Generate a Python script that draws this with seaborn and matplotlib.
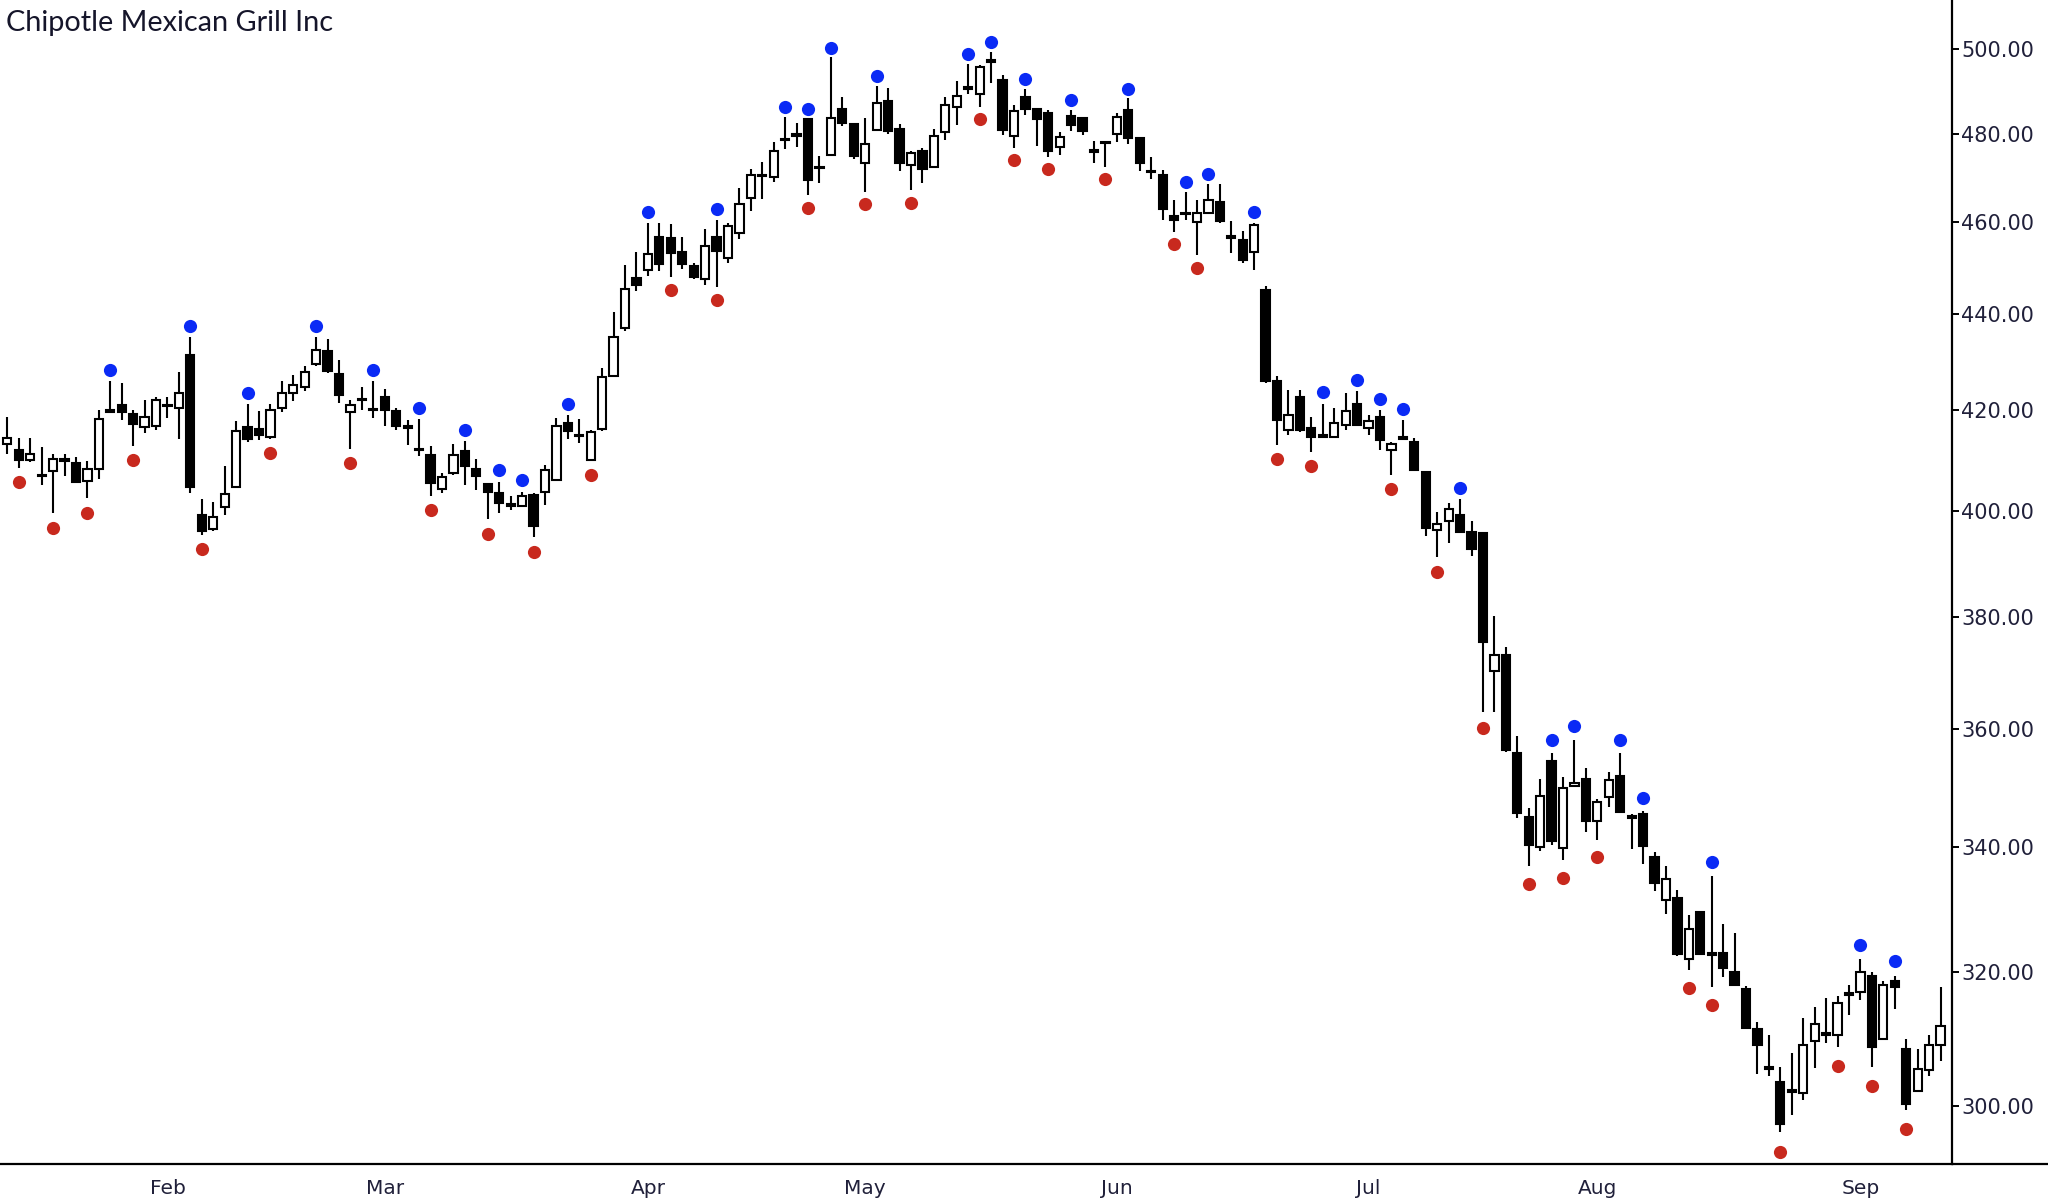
import numpy as np
import pandas as pd
import matplotlib
matplotlib.use("Agg")
import matplotlib.pyplot as plt
import matplotlib.ticker as mticker
from matplotlib.lines import Line2D
import seaborn as sns

title = "Chipotle Mexican Grill Inc"
holidays = ["2017-01-16", "2017-02-20", "2017-04-14", "2017-05-29", "2017-07-04", "2017-09-04"]
start_date, end_date = "2017-01-11", "2017-09-13"

opens = [413.1, 412.0, 409.9, 406.8, 407.7, 409.8, 409.4, 405.9, 408.2, 419.6,
         421.0, 419.1, 416.5, 416.8, 420.7, 420.3, 431.3, 399.2, 396.5, 400.7,
         404.7, 416.5, 416.1, 414.5, 420.3, 423.5, 424.7, 429.4, 432.2, 427.4,
         419.5, 422.0, 420.1, 422.7, 419.7, 416.4, 412.1, 410.9, 404.2, 407.4,
         411.7, 408.2, 405.2, 403.4, 401.0, 400.9, 403.1, 403.6, 406.1, 417.3,
         414.7, 410.0, 416.1, 426.9, 436.9, 447.6, 449.4, 456.6, 456.3, 453.4,
         450.2, 447.4, 456.6, 452.0, 457.6, 465.3, 470.3, 470.0, 478.5, 479.8,
         483.4, 472.2, 475.1, 485.9, 482.3, 473.3, 480.9, 487.7, 481.0, 472.9,
         476.0, 472.4, 480.5, 486.2, 491.0, 489.4, 497.0, 492.7, 479.5, 488.6,
         485.9, 484.9, 476.9, 484.2, 483.6, 476.1, 477.8, 479.9, 485.6, 479.0,
         471.4, 470.5, 461.3, 462.0, 460.0, 462.0, 464.4, 456.7, 456.0, 453.4,
         445.0, 426.0, 416.0, 422.7, 416.3, 414.8, 414.5, 416.9, 421.2, 416.3,
         418.5, 412.0, 414.4, 413.5, 407.5, 396.3, 398.1, 399.2, 396.0, 395.7,
         370.1, 373.0, 355.8, 344.9, 340.0, 354.5, 339.8, 350.2, 351.3, 344.2,
         348.3, 351.9, 345.0, 345.5, 338.3, 331.4, 331.7, 322.0, 329.4, 323.0,
         323.0, 320.0, 317.4, 311.3, 305.7, 303.4, 302.0, 301.9, 309.6, 310.4,
         310.5, 316.5, 317.0, 319.4, 309.9, 318.6, 308.4, 302.2, 305.2, 309.0]

highs = [418.5, 414.3, 414.3, 412.5, 411.2, 411.2, 410.6, 409.7, 420.0, 425.9,
         425.4, 420.0, 422.0, 422.7, 422.7, 427.8, 435.0, 402.2, 401.8, 408.7,
         417.7, 421.2, 419.7, 421.2, 425.9, 427.1, 429.1, 435.0, 434.6, 430.2,
         422.0, 424.7, 425.9, 424.3, 420.3, 417.9, 418.1, 412.8, 407.4, 413.2,
         413.7, 410.2, 405.4, 405.7, 402.8, 403.7, 403.4, 409.0, 418.3, 419.0,
         418.1, 415.9, 428.7, 440.3, 450.5, 453.4, 459.8, 459.8, 459.5, 456.6,
         451.0, 458.3, 460.5, 459.8, 467.5, 472.0, 473.5, 478.0, 484.0, 482.4,
         483.6, 474.8, 498.1, 488.7, 482.5, 483.6, 491.3, 490.8, 482.3, 476.0,
         476.6, 481.0, 488.6, 492.3, 496.5, 496.3, 499.4, 493.9, 486.7, 490.5,
         486.1, 485.5, 480.5, 485.6, 483.8, 478.4, 478.4, 484.9, 488.3, 479.3,
         474.7, 471.6, 464.8, 466.7, 464.8, 468.4, 468.4, 460.2, 458.0, 459.8,
         446.0, 427.0, 424.0, 424.0, 418.5, 421.3, 420.3, 423.4, 423.9, 419.0,
         420.0, 413.5, 417.9, 414.3, 407.6, 399.7, 401.5, 402.2, 398.1, 396.0,
         380.2, 374.5, 358.7, 346.4, 351.3, 355.8, 351.7, 358.1, 353.2, 348.0,
         352.6, 355.8, 345.4, 345.9, 339.2, 336.8, 333.0, 329.0, 329.6, 335.2,
         327.6, 326.1, 317.9, 312.4, 310.5, 305.6, 307.7, 313.0, 314.6, 316.0,
         316.3, 318.0, 322.0, 320.0, 318.6, 319.4, 309.9, 308.4, 310.5, 317.8]

lows = [411.2, 408.4, 409.6, 405.1, 399.5, 406.7, 405.4, 402.4, 406.2, 419.3,
        418.0, 412.7, 415.4, 416.0, 418.3, 414.1, 403.5, 395.4, 396.2, 399.2,
        404.4, 413.5, 414.0, 414.1, 419.5, 421.9, 423.9, 429.1, 427.6, 421.5,
        412.2, 419.9, 418.3, 416.8, 416.0, 413.0, 410.8, 402.9, 403.5, 406.9,
        405.1, 404.0, 398.4, 399.5, 400.2, 400.7, 395.0, 401.1, 405.9, 414.1,
        413.3, 409.8, 415.7, 426.7, 436.4, 444.9, 448.1, 449.1, 447.8, 449.6,
        447.4, 446.1, 445.7, 451.0, 456.1, 462.4, 465.0, 469.0, 476.4, 476.9,
        465.9, 468.7, 474.9, 481.7, 474.1, 466.7, 480.7, 479.9, 471.5, 467.1,
        468.7, 472.2, 478.5, 482.0, 489.4, 486.2, 492.0, 479.7, 476.7, 484.4,
        477.1, 474.7, 475.1, 480.7, 479.7, 473.2, 472.4, 478.2, 477.6, 471.5,
        469.7, 460.4, 457.8, 460.4, 452.7, 461.9, 459.8, 453.2, 450.9, 449.5,
        425.5, 413.0, 415.0, 415.5, 411.5, 414.5, 414.3, 416.0, 416.7, 415.0,
        411.9, 407.0, 414.0, 407.7, 395.1, 391.1, 393.8, 395.7, 391.4, 363.0,
        363.0, 356.0, 344.8, 336.8, 339.4, 340.3, 337.8, 350.0, 342.5, 341.2,
        346.6, 345.6, 339.7, 337.2, 332.8, 329.2, 322.6, 320.3, 322.7, 317.8,
        319.3, 317.9, 311.3, 304.6, 304.4, 296.2, 298.7, 300.9, 305.5, 309.2,
        308.6, 313.5, 315.7, 305.7, 309.7, 314.3, 299.4, 302.0, 304.4, 306.6]

closes = [414.3, 410.0, 411.2, 407.0, 410.2, 410.0, 405.7, 408.2, 418.1, 419.9,
          419.5, 417.2, 418.5, 422.0, 420.9, 423.4, 404.7, 396.2, 398.8, 403.3,
          415.8, 414.1, 415.0, 420.0, 423.4, 425.1, 427.8, 432.4, 428.0, 423.0,
          421.1, 422.2, 419.9, 420.0, 416.8, 416.6, 411.9, 405.5, 406.6, 410.9,
          408.7, 406.7, 403.7, 401.5, 401.2, 402.9, 397.0, 407.9, 416.7, 415.7,
          414.9, 415.5, 426.7, 435.0, 445.3, 446.1, 452.9, 450.8, 453.2, 450.7,
          447.8, 454.7, 453.6, 459.0, 463.9, 470.5, 470.6, 476.0, 478.8, 479.6,
          469.4, 472.4, 483.6, 482.6, 474.8, 477.7, 487.3, 480.7, 473.3, 475.6,
          471.9, 479.5, 486.7, 488.9, 490.4, 495.7, 497.4, 480.9, 485.4, 485.7,
          483.4, 476.0, 479.2, 482.0, 480.7, 475.9, 478.0, 484.0, 479.0, 473.2,
          471.2, 462.8, 460.4, 461.8, 461.9, 464.8, 460.2, 456.5, 451.6, 459.3,
          426.0, 418.0, 419.0, 416.0, 414.5, 414.6, 417.3, 419.7, 416.9, 417.7,
          413.9, 413.1, 414.2, 408.0, 396.7, 397.5, 400.4, 396.0, 392.6, 375.5,
          373.0, 356.3, 345.6, 340.3, 348.5, 340.9, 349.9, 350.6, 344.2, 347.4,
          351.2, 345.7, 344.8, 340.1, 334.1, 334.7, 322.8, 326.7, 322.8, 322.7,
          320.6, 318.0, 311.5, 308.9, 305.4, 297.4, 302.3, 308.9, 312.1, 310.7,
          315.3, 316.8, 320.0, 308.7, 318.0, 317.7, 300.2, 305.3, 309.0, 311.8]

swing_high_idx = [9, 16, 21, 27, 32, 36, 40, 43, 45, 49, 56, 62, 68, 70, 72, 76, 84, 86,
                  89, 93, 98, 103, 105, 109, 115, 118, 120, 122, 127, 135, 137, 141, 143,
                  149, 162, 165]
swing_low_idx = [1, 4, 7, 11, 17, 23, 30, 37, 42, 46, 51, 58, 62, 70, 75, 79, 85, 88,
                 91, 96, 102, 104, 111, 114, 121, 125, 129, 133, 136, 139, 147, 149, 155,
                 160, 163, 166]

y_ticks = [300, 320, 340, 360, 380, 400, 420, 440, 460, 480, 500]

# ---------------------------------------------------------------
dates = pd.bdate_range(start_date, end_date, freq="C", holidays=holidays)
n = len(opens)
dates = dates[:n]
df = pd.DataFrame({"date": dates, "open": opens, "high": highs,
                   "low": lows, "close": closes})
df["x"] = np.arange(n)
df["up"] = df["close"] >= df["open"]

sns.set_style("white")
plt.rcParams["font.family"] = ["DejaVu Sans"]

W, H = 2048, 1198
fig = plt.figure(figsize=(W / 100, H / 100), dpi=100)
ax_bottom = 34 / H
ax_right = 1951.5 / W
ax = fig.add_axes([0, ax_bottom, ax_right, 1 - ax_bottom])
ax.set_facecolor("white")

ax.set_yscale("log")

# wicks
ax.vlines(df["x"], df["low"], df["high"], color="black", linewidth=1.5, zorder=2)

# bodies
body_bottom = np.minimum(df["open"], df["close"])
body_h = np.maximum(np.abs(df["close"] - df["open"]), 0.25)
colors = np.where(df["up"], "white", "black")
ax.bar(df["x"], body_h, bottom=body_bottom, width=0.72, color=colors,
       edgecolor="black", linewidth=1.5, zorder=3)

# swing markers
hi = df.loc[swing_high_idx]
lo = df.loc[swing_low_idx]
sns.scatterplot(x=hi["x"], y=hi["high"] + 2.3, ax=ax, color="#0a2af5",
                s=90, linewidth=0, zorder=4, legend=False)
sns.scatterplot(x=lo["x"], y=lo["low"] - 2.8, ax=ax, color="#c8291e",
                s=90, linewidth=0, zorder=4, legend=False)

ax.set_xlim(-0.64, 169.96)
ax.set_ylim(291.66, 512.08)

# y axis on the right
ax.yaxis.tick_right()
ax.yaxis.set_major_locator(mticker.FixedLocator(y_ticks))
ax.yaxis.set_minor_locator(mticker.NullLocator())
ax.yaxis.set_major_formatter(mticker.FuncFormatter(lambda v, p: f"{v:.2f}"))
ax.tick_params(axis="y", which="major", direction="out", length=5, width=1.4,
               colors="black", labelcolor="#20203a", labelsize=15, pad=2,
               right=True, left=False)

# x axis: months (major) and weeks (minor)
month_start = [i for i in range(1, n) if dates[i].month != dates[i - 1].month]
week_start = [i for i in range(1, n) if dates[i].isocalendar()[1] != dates[i - 1].isocalendar()[1]]
ax.xaxis.set_major_locator(mticker.FixedLocator(month_start))
ax.xaxis.set_major_formatter(mticker.FixedFormatter([dates[i].strftime("%b") for i in month_start]))
ax.xaxis.set_minor_locator(mticker.FixedLocator(week_start))
ax.tick_params(axis="x", which="major", direction="out", length=8, width=1.4,
               labelsize=14.5, labelcolor="#20203a", pad=3)
ax.tick_params(axis="x", which="minor", direction="out", length=3.5, width=1.2)

for s in ["left", "top"]:
    ax.spines[s].set_visible(False)
for s in ["right", "bottom"]:
    ax.spines[s].set_visible(True)
    ax.spines[s].set_color("black")
    ax.spines[s].set_linewidth(1.6)

# bottom rule continues beneath the price scale
fig.add_artist(Line2D([ax_right, 1], [ax_bottom, ax_bottom], transform=fig.transFigure,
                      color="black", linewidth=1.6))

fig.text(6 / W, 1 - 23 / H, title, fontsize=20.8, family=["Lato", "DejaVu Sans"],
         color="#15152a", ha="left", va="center")

fig.savefig("out.png", dpi=100, facecolor="white")
